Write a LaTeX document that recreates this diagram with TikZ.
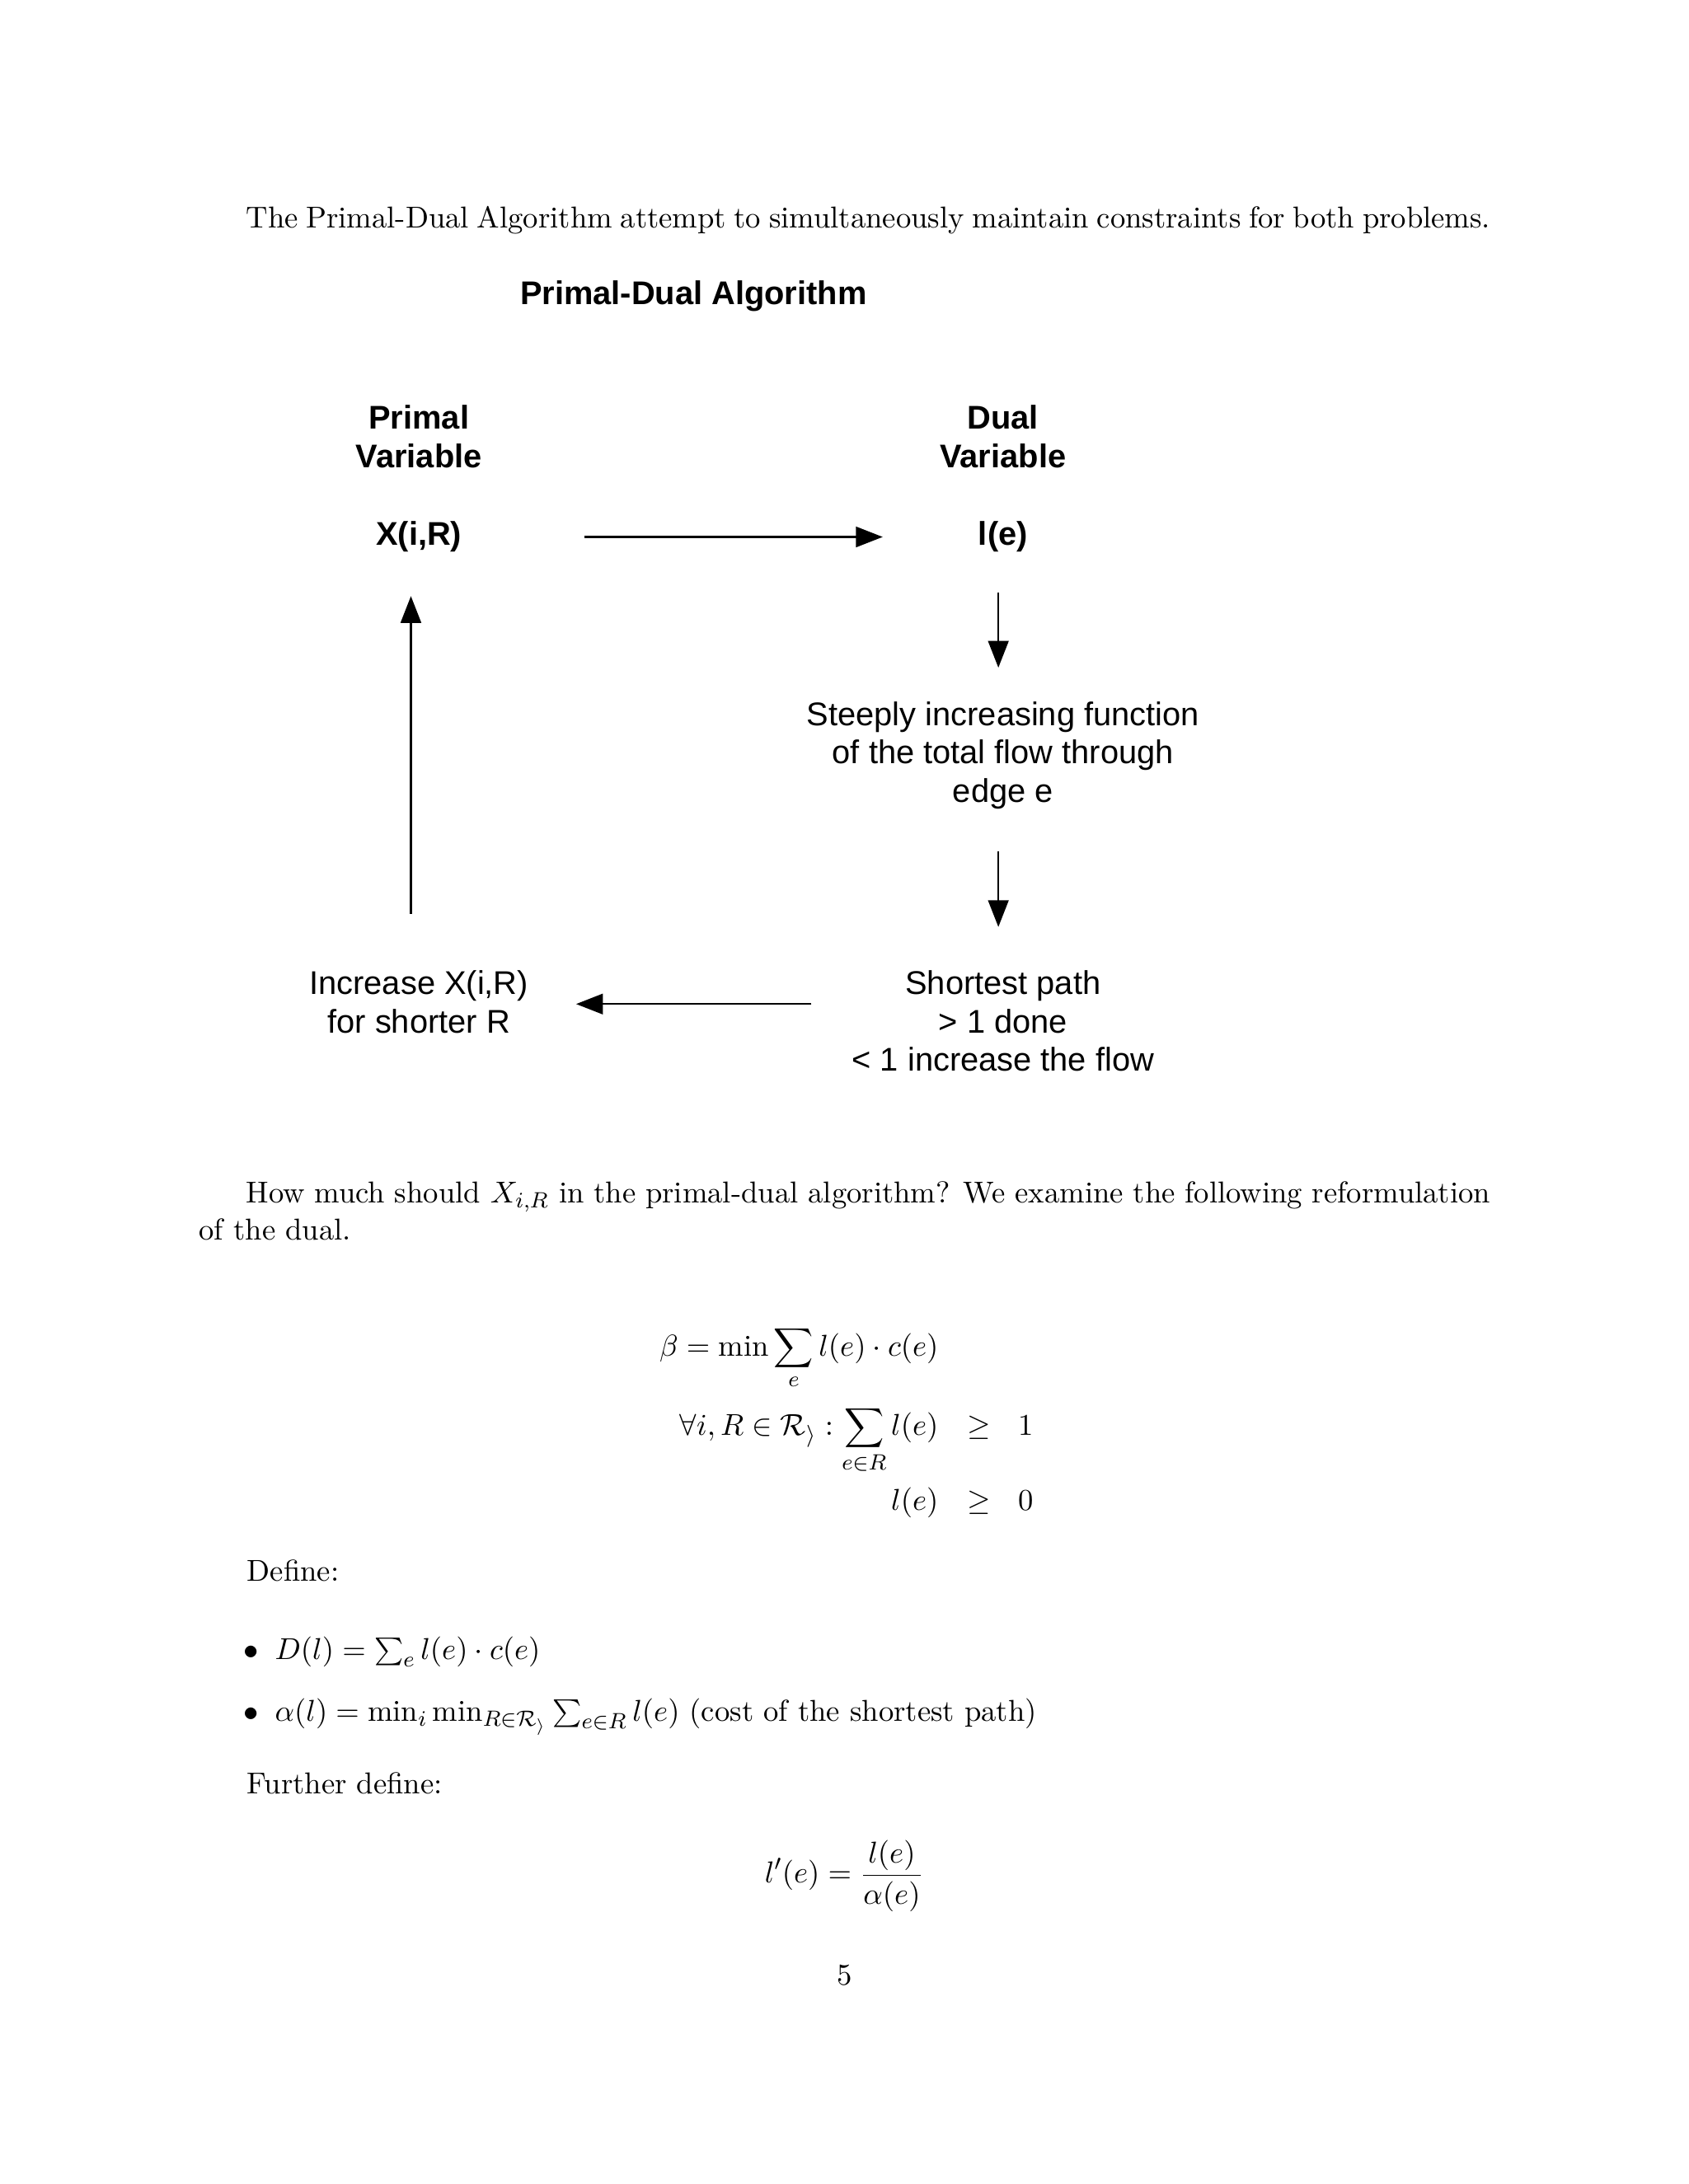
\documentclass[tikz,border=0pt,11pt]{standalone}
\usepackage{fontspec}
\newfontfamily\arialf{Liberation Sans}
\usetikzlibrary{arrows.meta}
\newcommand{\dfont}{\arialf\fontsize{11.9}{13.9}\selectfont}
\newcommand{\mlines}[1]{\begin{tabular}[t]{@{}c@{}}#1\end{tabular}}
\begin{document}
\begin{tikzpicture}[x=0.50495pt,y=-0.50495pt,
  dtext/.style={font=\dfont, inner sep=0pt, anchor=base},
  btext/.style={font=\dfont\bfseries, inner sep=0pt, anchor=base},
  rtext/.style={inner sep=0pt, anchor=base west},
  mrow/.style={inner sep=0pt, anchor=base east},
  parbox/.style={inner sep=0pt, anchor=base west, text width=468pt, align=justify},
  arr/.style={line width=0.7pt, -{Triangle[length=9.7pt,width=7.4pt]}}]
\useasboundingbox (0,0) rectangle (1212,1568);

% introductory sentence
\node[parbox] (intro) at (142.6,163.7) {\hspace*{17pt}The Primal-Dual Algorithm attempt to simultaneously maintain constraints for both problems.};

% diagram
\node[btext, anchor=base west] (title) at (373,218.5) {Primal-Dual Algorithm};
\node[btext] (pvar) at (300.7,308) {\mlines{Primal\\Variable}};
\node[btext] (dvar) at (720,308) {\mlines{Dual\\Variable}};
\node[btext] (xir) at (300.7,391.6) {X(i,R)};
\node[btext] (le) at (720,391.6) {l(e)};
\node[dtext] (steep) at (720,520.8) {\mlines{Steeply increasing function\\of the total flow through\\edge e}};
\node[dtext] (sp) at (720,714.1) {\mlines{Shortest path\\> 1 done\\< 1 increase the flow}};
\node[dtext] (inc) at (300.7,714.1) {\mlines{Increase X(i,R)\\for shorter R}};

\draw[arr, shorten <=44.2pt, shorten >=34.5pt] (xir.east) -- (le.west);
\draw[arr, shorten <=14.3pt, shorten >=11pt] ([xshift=-1.7pt]le.south) -- ([xshift=-1.7pt]steep.north);
\draw[arr, shorten <=13.4pt, shorten >=14.6pt] ([xshift=-1.7pt]steep.south) -- ([xshift=-1.7pt]sp.north);
\draw[arr, shorten <=14.5pt, shorten >=17.1pt] ([yshift=-3.4pt]sp.base west) -- ([yshift=-3.4pt]inc.base east);
\draw[arr, shorten <=19.4pt, shorten >=15.7pt] ([xshift=-2.9pt]inc.north) -- ([xshift=-2.9pt]xir.south);

% second paragraph
\node[parbox] (para) at (142.6,863.5)
  {\hspace*{17pt}How much should $X_{i,R}$ in the primal-dual algorithm? We examine the following reformulation of the dual.};

% dual program
\node[mrow] (r1) at (674,973.5) {$\displaystyle \beta = \min\sum_e l(e)\cdot c(e)$};
\node[mrow] (r2) at (674,1030.7) {$\displaystyle \forall i, R\in\mathcal{R}_{\rangle} : \sum_{e\in R} l(e)$};
\node[rtext] (r2b) at (674,1030.7) {\hspace{10pt}$\geq$\hspace{10pt}$1$};
\node[mrow] (r3) at (674,1084) {$\displaystyle l(e)$};
\node[rtext] (r3b) at (674,1084) {\hspace{10pt}$\geq$\hspace{10pt}$0$};

% definitions
\node[rtext] (define) at (177,1135) {Define:};
\node[mrow] (b1) at (186,1191.4) {$\bullet$};
\node[rtext] (i1) at (197,1191.4) {$D(l) = \sum_e l(e)\cdot c(e)$};
\node[mrow] (b2) at (186,1235.8) {$\bullet$};
\node[rtext] (i2) at (197,1235.8) {$\alpha(l) = \min_i \min_{R\in\mathcal{R}_{\rangle}} \sum_{e\in R} l(e)$ (cost of the shortest path)};
\node[rtext] (further) at (177,1288) {Further define:};
\node[inner sep=0pt, anchor=base] (lp) at (606,1352) {$\displaystyle l'(e) = \frac{l(e)}{\alpha(e)}$};

% page number
\node[inner sep=0pt, anchor=base] (pg) at (606,1425) {5};
\end{tikzpicture}
\end{document}
